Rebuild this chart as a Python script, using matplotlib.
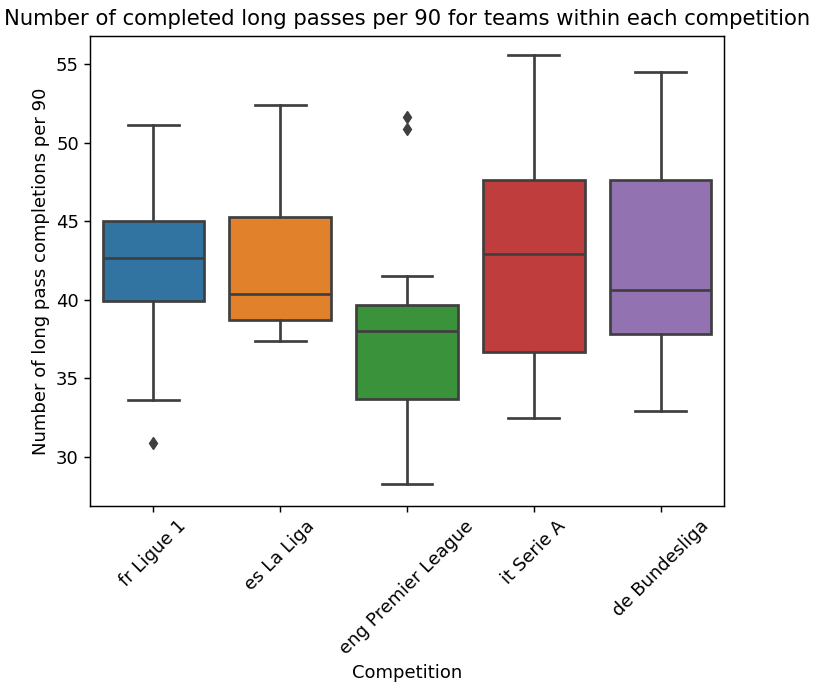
import matplotlib

matplotlib.use("Agg")
import matplotlib.pyplot as plt

# Box statistics
competitions = ["fr Ligue 1", "es La Liga", "eng Premier League", "it Serie A", "de Bundesliga"]
whisker_low = [33.6, 37.4, 28.3, 32.5, 32.9]
q1 = [39.95, 38.7, 33.7, 36.7, 37.8]
median = [42.65, 40.35, 38.0, 42.9, 40.6]
q3 = [45.0, 45.27, 39.67, 47.62, 47.62]
whisker_high = [51.1, 52.4, 41.5, 55.6, 54.5]
outliers = [[30.9], [], [51.63, 50.86], [], []]

colors = ["#3274a1", "#e1812c", "#3a923a", "#c03d3e", "#9372b2"]
line_color = "#3f3f3f"
S = 1.3  # reference is an upscaled notebook figure

stats = []
for i, name in enumerate(competitions):
    stats.append({
        "label": name,
        "whislo": whisker_low[i],
        "q1": q1[i],
        "med": median[i],
        "q3": q3[i],
        "whishi": whisker_high[i],
        "fliers": outliers[i],
    })

fig = plt.figure(figsize=(8.24, 6.92), dpi=100)
ax = fig.add_axes([90 / 824, 1 - 506 / 692, 634 / 824, 470 / 692])

bp = ax.bxp(
    stats,
    positions=range(len(stats)),
    widths=0.8,
    patch_artist=True,
    boxprops=dict(edgecolor=line_color, linewidth=1.5 * S),
    medianprops=dict(color=line_color, linewidth=1.5 * S),
    whiskerprops=dict(color=line_color, linewidth=1.5 * S),
    capprops=dict(color=line_color, linewidth=1.5 * S),
    flierprops=dict(marker="d", markersize=5 * S, markerfacecolor=line_color,
                    markeredgecolor=line_color),
)
for patch, c in zip(bp["boxes"], colors):
    patch.set_facecolor(c)
for cap in bp["caps"]:
    x0, x1 = cap.get_xdata()
    mid = (x0 + x1) / 2
    cap.set_xdata([mid - 0.2, mid + 0.2])

ax.set_xlim(-0.5, len(stats) - 0.5)
ax.set_ylim(26.88, 56.78)
ax.set_yticks([30, 35, 40, 45, 50, 55])
ax.set_xticks(range(len(stats)))
ax.set_xticklabels(competitions, rotation=45, fontsize=10 * S)
ax.tick_params(axis="y", labelsize=10 * S)
ax.tick_params(length=3.5 * S, width=0.8 * S)
for sp in ax.spines.values():
    sp.set_linewidth(0.8 * S)

ax.set_xlabel("Competition", fontsize=10 * S)
ax.set_ylabel("Number of long pass completions per 90", fontsize=10 * S)
ax.set_title("Number of completed long passes per 90 for teams within each competition",
             fontsize=15.2, pad=6 * S)

fig.savefig("out.png", dpi=100)
